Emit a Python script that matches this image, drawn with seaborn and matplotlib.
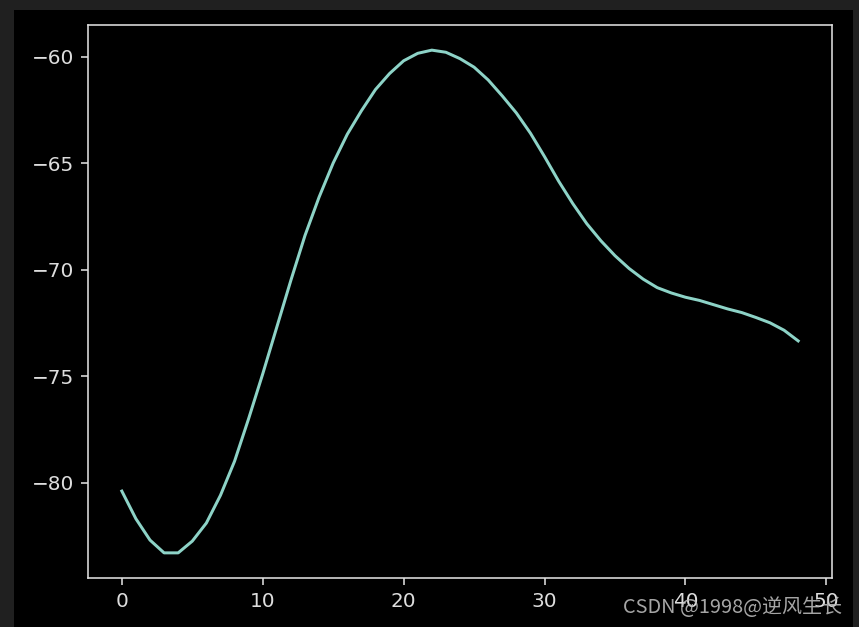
import matplotlib
matplotlib.use("Agg")
import matplotlib.pyplot as plt
from matplotlib.patches import Rectangle
import seaborn as sns
import numpy as np

# values (index 0..48)
steps = list(range(49))
values = [
    -80.4, -81.7, -82.7, -83.3, -83.3, -82.75, -81.9, -80.6, -79.0, -77.0,
    -74.9, -72.7, -70.5, -68.4, -66.6, -65.0, -63.65, -62.55, -61.55, -60.8,
    -60.2, -59.85, -59.7, -59.8, -60.1, -60.5, -61.1, -61.85, -62.65, -63.6,
    -64.7, -65.85, -66.9, -67.85, -68.65, -69.35, -69.95, -70.45, -70.85, -71.1,
    -71.3, -71.45, -71.65, -71.85, -72.02, -72.25, -72.5, -72.85, -73.35,
]
watermark = "CSDN @1998@逆风生长"

plt.style.use("dark_background")

W, H, DPI = 859, 627, 144
fig = plt.figure(figsize=(W / DPI, H / DPI), dpi=DPI)
fig.patch.set_facecolor("#202020")
# black plot canvas inside the grey screenshot frame
fig.patches.append(Rectangle((14 / W, 0), (853 - 14) / W, (627 - 10) / H,
                             transform=fig.transFigure, facecolor="black",
                             edgecolor="none", zorder=-10))

ax = fig.add_axes([88 / W, (627 - 578) / H, (832 - 88) / W, (578 - 25) / H])
ax.set_facecolor("black")

sns.lineplot(x=steps, y=values, color="#8dd3c7", linewidth=1.5, ax=ax)
ax.set_xticks([0, 10, 20, 30, 40, 50])
ax.set_yticks([-80, -75, -70, -65, -60])

for s in ax.spines.values():
    s.set_color("#dddddd")
ax.tick_params(colors="#dddddd", labelcolor="#dddddd")

fig.text(842 / W, (627 - 613) / H, watermark, ha="right", va="baseline",
         fontsize=10, color="#b8b8b8", alpha=0.9,
         family=["Noto Sans CJK SC", "DejaVu Sans"])

fig.savefig("out.png", dpi=DPI, facecolor=fig.get_facecolor())
